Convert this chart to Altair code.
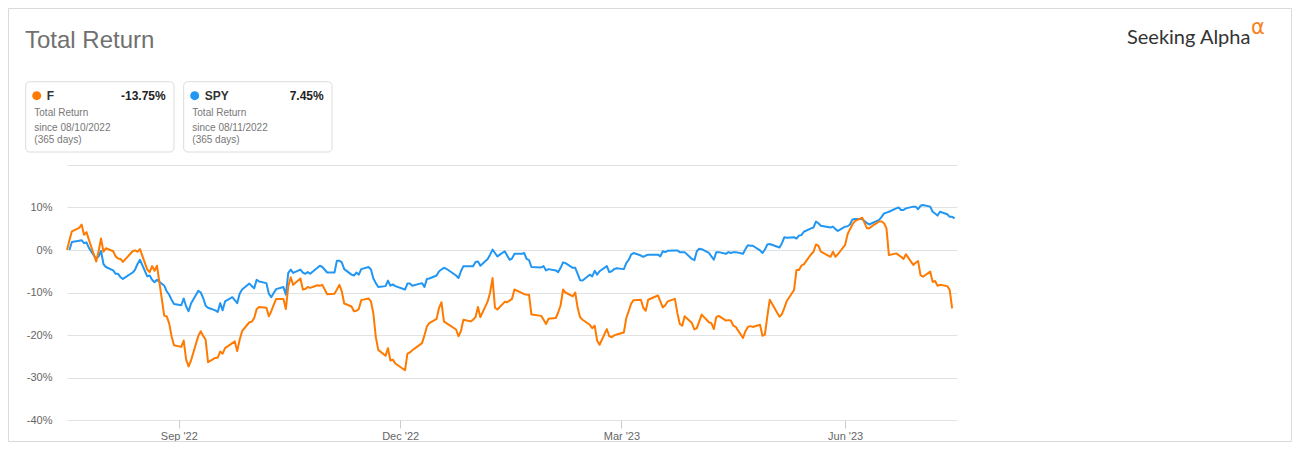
import altair as alt
import pandas as pd

# ---------------- data ----------------
SERIES = ["F", "SPY"]
COLORS = ["#ff7a00", "#2196f3"]
HOLIDAYS = ["2022-09-05", "2022-11-24", "2022-12-26", "2023-01-02", "2023-01-16",
            "2023-02-20", "2023-04-07", "2023-05-29", "2023-06-19", "2023-07-04"]
TRADING_DAYS = pd.bdate_range("2022-08-10", periods=252, freq="C",
                              holidays=HOLIDAYS).strftime("%Y-%m-%d").tolist()

F_RETURN = [
    0, 2.3, 4.4, 5.2, 6.0, 3.6, 4.2, 2.4, -2.7, -0.3, 2.7, -0.4, 0.4, -0.3, -1.5, -2.0,
    -2.1, -2.8, -0.3, -0.1, -0.4, 0.2, -4.6, -5.2, -3.8, -4.9, -3.7, -15.5, -15.6, -17.2,
    -20.3, -22.4, -22.8, -21.3, -25.8, -27.4, -26.0, -20.2, -19.1, -20.2, -21.1, -26.4,
    -25.4, -25.3, -23.9, -24.4, -23.1, -21.9, -21.5,
    -23.8, -21.1, -19.1, -17.0, -16.9, -16.0, -13.9, -13.4, -13.6, -15.6, -14.4, -12.9,
    -11.5, -11.5, -13.9, -8.5, -6.4, -8.2, -6.7, -9.3, -9.2, -8.7, -8.9, -8.3, -8.4, -8.2,
    -10.4, -10.3, -9.3, -8.2, -9.7, -12.6, -13.3, -14.4, -14.3, -13.9, -11.8, -11.4, -12.1,
    -15.0, -20.5, -23.5, -24.9, -23.1, -26.0, -25.8, -26.7, -28.3, -24.4, -24.1,
    -23.6, -21.9, -20.1, -18.0, -17.2, -16.2, -13.6, -12.3, -16.8, -17.2, -18.7, -20.3,
    -19.1, -16.4, -16.8, -16.4, -15.8, -13.4, -15.8, -12.1, -10.0, -6.6, -13.6, -14.0,
    -12.2, -12.3, -11.9, -11.5, -9.3, -10.1, -10.4, -10.5, -10.5, -15.2, -15.5, -16.4,
    -17.4, -16.2, -16.0, -14.7, -13.0, -9.3, -10.0, -10.9, -10.0, -13.6, -15.8, -16.4, -17.6,
    -18.4, -17.8, -21.3, -22.3, -18.6, -20.3, -20.5, -20.1, -19.9, -19.4, -16.0, -14.4,
    -12.6, -11.8, -11.7, -13.6, -14.3, -11.7, -10.7, -12.1, -13.5, -13.0, -12.1, -11.5,
    -14.8, -17.4, -17.8, -15.6, -17.2, -18.7, -18.4, -16.8, -15.2, -17.0, -17.2, -18.6,
    -15.8, -15.5, -16.6, -16.5, -16.6, -17.8, -18.1, -20.7, -19.1, -18.1, -17.9, -18.1,
    -17.6, -20.2, -19.9, -15.6, -11.7,
    -15.7, -15.1, -13.6, -12.0, -9.4, -4.7, -4.7, -3.7, -3.4, -1.0, -0.4, 1.3, 1.0, -0.4,
    -1.6, -0.4, -1.6, -1.0, 1.2, 3.7, 4.9, 6.0, 6.8, 7.6, 5.1, 5.1, 5.6, 6.7, 6.7, 6.3,
    5.1, -1.2, -0.8, -1.2, -1.6, -2.1, -1.0, -3.5, -3.0, -2.6, -5.9, -6.3, -5.1, -7.5,
    -7.3, -8.4, -8.2, -8.5, -9.4, -13.75,
]

SPY_RETURN = [
    0, 1.9, 2.2, 2.3, 1.6, 1.8, 0.5, -2.1, -1.5, -0.2, -3.3, -4.0, -4.8, -5.6, -5.6, -6.4,
    -6.8, -5.3, -4.6, -3.3, -2.3, -6.2, -6.0, -7.0, -7.6, -7.0, -8.4, -9.7, -10.5, -11.7,
    -12.7, -13.0, -11.4, -13.3, -14.4, -12.6, -9.6, -10.0, -11.3, -13.1, -13.6, -14.2,
    -14.6, -12.5, -14.2, -12.1, -11.1, -11.8,
    -12.5, -10.3, -9.3, -7.9, -8.5, -9.0, -7.0, -7.4, -7.8, -10.3, -11.1, -10.1, -9.2,
    -8.7, -10.5, -5.4, -4.6, -5.4, -4.6, -5.3, -5.6, -5.2, -5.6, -4.2, -3.7, -4.0, -5.3,
    -5.3, -2.5, -2.5, -2.9, -4.5, -5.8, -6.0, -5.3, -5.8, -4.5, -4.0, -4.6, -6.7, -7.8,
    -8.7, -8.5, -7.2, -8.4, -8.1, -8.5, -9.3, -7.9, -7.9,
    -8.4, -7.8, -8.7, -6.8, -6.7, -6.0, -5.0, -4.6, -4.2, -4.4, -6.0, -6.6, -5.0, -3.8,
    -3.8, -3.8, -2.8, -2.7, -3.7, -2.1, -1.1, 0.1, -0.7, -1.5, -0.3, -1.3, -2.3, -2.0,
    -0.9, -0.9, -0.7, -2.1, -2.4, -4.0, -4.1, -3.8, -4.8, -4.5, -4.8, -5.2, -4.2, -2.9,
    -3.1, -4.2, -4.2, -5.6, -7.1, -7.2, -5.8,
    -6.2, -4.9, -5.8, -5.0, -3.8, -5.2, -5.0, -4.5, -4.3, -4.5, -3.1, -2.3, -1.1, -0.7,
    -1.3, -1.6, -1.3, -1.1, -1.1, -1.5, -0.3, -0.5, -0.2, -0.1, -0.1, -0.5, -0.5, -0.5,
    -2.1, -2.4, -0.3, 0.3, 0.2, -0.7, -1.5, -2.3, -0.5, -0.5, -0.9, -0.5, -0.7, -0.5,
    -0.5, -0.9, 0.2, 1.1, 1.0, 1.0, -0.1, -0.7, 0.1, 1.3, 1.4,
    0.6, 1.6, 3.0, 2.9, 3.0, 2.7, 3.4, 3.5, 4.3, 5.1, 5.3, 6.7, 6.3, 5.7, 5.3, 5.5, 4.9,
    4.5, 5.5, 5.6, 6.0, 7.2, 7.3, 7.3, 6.3, 6.0, 6.3, 7.1, 7.8, 8.6, 8.8, 9.0, 9.8, 10.0,
    9.4, 9.4, 9.8, 10.2, 10.2, 9.6, 10.4, 10.6, 10.2, 9.0, 8.6, 8.1, 9.0, 8.4, 7.8, 7.8,
    7.45,
]

SINCE = ["since 08/10/2022", "since 08/11/2022"]
TOTALS = ["-13.75%", "7.45%"]
Y_TICKS = [-40, -30, -20, -10, 0, 10, 20]
X_TICKS = [(2022, 9, 25), (2022, 12, 25), (2023, 3, 26), (2023, 6, 26)]
X_DOMAIN = [(2022, 8, 10), (2023, 8, 11)]

df_f = pd.DataFrame({"date": TRADING_DAYS[0:len(F_RETURN)], "ret": F_RETURN, "s": "F"})
df_spy = pd.DataFrame({"date": TRADING_DAYS[1:1 + len(SPY_RETURN)], "ret": SPY_RETURN, "s": "SPY"})
one = pd.DataFrame({"k": [0]})

# ---------------- layout ----------------
PW, PH = 890, 255
PAD_L, PAD_T = 59, 157
TOTAL_W, TOTAL_H = 1284, 434
FONT = "Liberation Sans"


def dt(t):
    return alt.DateTime(year=t[0], month=t[1], date=t[2], utc=True)


x_enc = alt.X(
    "date:T",
    scale=alt.Scale(type="utc", domain=[dt(d) for d in X_DOMAIN]),
    axis=alt.Axis(values=[dt(t) for t in X_TICKS],
                  labelExpr="utcFormat(datum.value, \"%b '%y\")",
                  grid=False, domain=False, tickColor="#cccccc", tickSize=8,
                  labelPadding=2, labelColor="#666666", labelFontSize=11,
                  labelFont=FONT, title=None),
)
y_enc = alt.Y(
    "ret:Q",
    scale=alt.Scale(domain=[-40, 20], nice=False, zero=False),
    axis=alt.Axis(values=Y_TICKS, labelExpr="datum.value == 20 ? '' : datum.value + '%'",
                  grid=True, gridColor="#e2e2e2", domain=False, ticks=False,
                  labelPadding=15, labelColor="#666666", labelFontSize=11,
                  labelFont=FONT, title=None),
)

spy_line = alt.Chart(df_spy).mark_line(color=COLORS[1], strokeWidth=2, strokeJoin="round").encode(
    x=x_enc, y=y_enc)
f_line = alt.Chart(df_f).mark_line(color=COLORS[0], strokeWidth=2, strokeJoin="round").encode(
    x=x_enc, y=y_enc)


def px(v):
    return alt.value(v)


def text(t, x, y, size, color, weight="normal", align="left", font=FONT, baseline="middle"):
    return alt.Chart(one).mark_text(
        text=t, align=align, baseline=baseline, fontSize=size, color=color,
        fontWeight=weight, font=font
    ).encode(x=px(x), y=px(y))


# page coordinates -> plot coordinates
OX, OY = 67, 165

border = alt.Chart(one).mark_rect(fill="transparent", fillOpacity=0, stroke="#dadada",
                                  strokeWidth=1).encode(
    x=px(-PAD_L + 0.5), x2=px(TOTAL_W - PAD_L - 0.5),
    y=px(-PAD_T + 0.5), y2=px(TOTAL_H - PAD_T - 0.5))

layers = [border]
layers.append(text("Total Return", 25 - OX, 47.7 - OY, 24, "#707070", baseline="alphabetic"))
layers.append(text("Seeking Alpha", 1127 - OX, 43.5 - OY, 20, "#333333",
                   font="Lato", baseline="alphabetic"))
layers.append(text("α", 1251 - OX, 33.5 - OY, 21, "#f7831f",
                   font="DejaVu Sans", baseline="alphabetic"))

BOX_X = [25.7, 183.7]
for i, name in enumerate(SERIES):
    bx = BOX_X[i]
    layers.append(alt.Chart(one).mark_rect(fill="white", stroke="#dcdcdc", strokeWidth=1,
                                           cornerRadius=4).encode(
        x=px(bx - OX), x2=px(bx + 148.3 - OX), y=px(81.7 - OY), y2=px(152 - OY)))
    layers.append(alt.Chart(one).mark_circle(size=80, color=COLORS[i], opacity=1).encode(
        x=px(bx + 11 - OX), y=px(95.7 - OY)))
    layers.append(text(name, bx + 21 - OX, 96 - OY, 12, "#333333", weight="bold"))
    layers.append(text(TOTALS[i], bx + 140 - OX, 96 - OY, 12, "#222222", weight="bold",
                       align="right"))
    layers.append(text("Total Return", bx + 8.6 - OX, 112.7 - OY, 10, "#777777"))
    layers.append(text(SINCE[i], bx + 8.6 - OX, 128.2 - OY, 10, "#777777"))
    layers.append(text("(365 days)", bx + 8.6 - OX, 140.4 - OY, 10, "#777777"))

layers += [spy_line, f_line]

chart = alt.layer(*layers).properties(
    width=PW, height=PH,
    autosize=alt.AutoSizeParams(type="none"),
    padding={"left": PAD_L, "top": PAD_T, "right": TOTAL_W - PAD_L - PW,
             "bottom": TOTAL_H - PAD_T - PH},
    background="white",
).configure(font=FONT).configure_view(stroke="transparent", strokeWidth=0)

chart.save("out.html", embed_options={"renderer": "svg", "actions": False})
